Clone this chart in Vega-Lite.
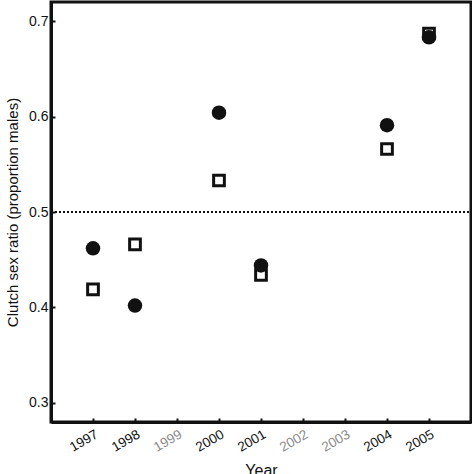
{
  "$schema": "https://vega.github.io/schema/vega-lite/v6.json",
  "width": 420,
  "height": 420,
  "autosize": "none",
  "padding": {"left": 51, "top": 2, "right": 1, "bottom": 52},
  "background": "white",
  "config": {
    "font": "Liberation Sans",
    "view": {"stroke": "#111", "strokeWidth": 3},
    "axis": {
      "grid": false,
      "domainColor": "#111",
      "domainWidth": 3,
      "tickColor": "#111",
      "tickWidth": 2,
      "tickSize": -4,
      "labelFont": "Liberation Sans",
      "titleFont": "Liberation Sans",
      "labelFontSize": 14,
      "titleFontSize": 15,
      "titleFontWeight": "normal",
      "labelColor": "#111",
      "titleColor": "#111"
    }
  },
  "data": {
    "values": [
      {"year": 1997, "ratio": 0.462, "group": "circle"},
      {"year": 1998, "ratio": 0.402, "group": "circle"},
      {"year": 2000, "ratio": 0.604, "group": "circle"},
      {"year": 2001, "ratio": 0.444, "group": "circle"},
      {"year": 2004, "ratio": 0.591, "group": "circle"},
      {"year": 2005, "ratio": 0.683, "group": "circle"},
      {"year": 1997, "ratio": 0.419, "group": "square"},
      {"year": 1998, "ratio": 0.466, "group": "square"},
      {"year": 2000, "ratio": 0.533, "group": "square"},
      {"year": 2001, "ratio": 0.434, "group": "square"},
      {"year": 2004, "ratio": 0.566, "group": "square"},
      {"year": 2005, "ratio": 0.687, "group": "square"}
    ]
  },
  "encoding": {
    "x": {
      "field": "year",
      "type": "quantitative",
      "scale": {"domain": [1996, 2006], "nice": false, "zero": false},
      "axis": {
        "title": "Year",
        "values": [1997, 1998, 1999, 2000, 2001, 2002, 2003, 2004, 2005],
        "format": "d",
        "labelAngle": -30,
        "labelPadding": 9,
        "labelFontSize": 13.5,
        "labelFontWeight": 500,
        "titlePadding": 9,
        "titleFontSize": 16,
        "labelColor": {
          "condition": {"test": "datum.value == 1999 || datum.value == 2002 || datum.value == 2003", "value": "#8a8a8a"},
          "value": "#111"
        }
      }
    },
    "y": {
      "field": "ratio",
      "type": "quantitative",
      "scale": {"domain": [0.28, 0.72], "nice": false, "zero": false},
      "axis": {
        "title": "Clutch sex ratio (proportion males)",
        "values": [0.3, 0.4, 0.5, 0.6, 0.7],
        "format": ".1f",
        "labelPadding": 7,
        "titlePadding": 8
      }
    }
  },
  "layer": [
    {
      "mark": {"type": "rule", "color": "#111", "strokeWidth": 1.5, "strokeDash": [1.5, 2.5]},
      "encoding": {"y": {"datum": 0.5}, "x": {"value": 0}, "x2": {"value": 420}}
    },
    {
      "transform": [{"filter": "datum.group == 'square'"}],
      "mark": {"type": "point", "shape": "square", "filled": false, "stroke": "#111", "strokeWidth": 3, "size": 115, "opacity": 1}
    },
    {
      "transform": [{"filter": "datum.group == 'circle'"}],
      "mark": {"type": "point", "shape": "circle", "filled": true, "fill": "#111", "size": 210, "opacity": 1}
    }
  ]
}
